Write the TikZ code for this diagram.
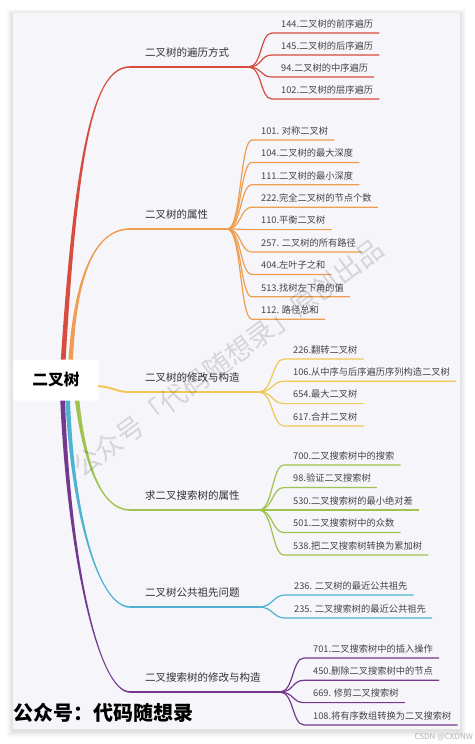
\documentclass[tikz,border=0pt]{standalone}
\usepackage{fontspec}
\setmainfont{Noto Sans CJK SC}
\usepackage{tikz}
\usetikzlibrary{calc}

\definecolor{cardbg}{RGB}{245,245,250}
\definecolor{redb}{RGB}{216,76,64}
\definecolor{orab}{RGB}{238,158,78}
\definecolor{yelb}{RGB}{240,200,88}
\definecolor{greb}{RGB}{160,194,78}
\definecolor{blub}{RGB}{78,178,208}
\definecolor{purb}{RGB}{116,56,142}
\definecolor{txtmain}{RGB}{50,50,50}
\definecolor{txtleaf}{RGB}{68,68,72}

\newcommand{\drawtrunk}[6]{%
    \fill[#1] ($(#2)+(-2.5,0)$) .. controls ($(#3)+(-1.5,0)$) and ($(#4)+(0,-0.8*#6)$) .. ($(#5.south west)+(0,-0.8*#6)$)
        -- ($(#5.south west)+(0,0.8*#6)$) .. controls ($(#4)+(0,0.8*#6)$) and ($(#3)+(1.5,0)$) .. ($(#2)+(2.5,0)$) -- cycle;}

\begin{document}
\begin{tikzpicture}
[
    x = 1pt, y = -1pt,
    branch/.style = {anchor = south west, inner sep = 0pt, text depth = 10pt, text = txtmain,
        font = \fontsize{10.5}{12}\selectfont,
        execute at begin node = \hspace*{15pt}, execute at end node = \hspace*{19pt}},
    leaf/.style = {anchor = south west, inner sep = 0pt, text depth = 5.5pt, text = txtleaf,
        font = \fontsize{9.25}{11}\selectfont,
        execute at begin node = \hspace*{9pt}, execute at end node = \hspace*{6pt}},
    limb/.style = {line width = 1.6pt},
    twig/.style = {line width = 1.2pt},
    rootbox/.style = {fill = white, rounded corners = 2pt, minimum width = 86pt, minimum height = 41pt,
        inner sep = 0pt, font = \fontsize{15.7}{18}\selectfont\bfseries},
]
    \useasboundingbox (0,0) rectangle (474,744);
    \foreach \s in {1,...,6}
        \fill[black, opacity = 0.018] ({13-\s},{13-\s+2}) rectangle ({460+\s},{729+\s+2});
    \fill[cardbg] (13,13) rectangle (460,729);

    \coordinate (rc) at (56,380);
    \coordinate (t1) at (62,380);
    \coordinate (t2) at (70,380);
    \coordinate (t4) at (75,380);
    \coordinate (t5) at (67,380);
    \coordinate (t6) at (62,380);

    \node[branch] (m1) at (130,67) {二叉树的遍历方式};
    \node[branch] (m2) at (130,229) {二叉树的属性};
    \node[branch] (m3) at (130,392) {二叉树的修改与构造};
    \node[branch] (m4) at (130,510) {求二叉搜索树的属性};
    \node[branch] (m5) at (130,607) {二叉树公共祖先问题};
    \node[branch] (m6) at (130,692) {二叉搜索树的修改与构造};

    \drawtrunk{redb}{t1}{76,140}{95,67}{m1}{1}
    \drawtrunk{orab}{t2}{72,290}{90,229}{m2}{1}
    \drawtrunk{purb}{t6}{66,540}{96,692}{m6}{-1}
    \drawtrunk{blub}{t5}{70,510}{98,607}{m5}{-1}
    \drawtrunk{greb}{t4}{82,460}{100,510}{m4}{-1}

    \node[rootbox] (root) at (rc) {二叉树};
    \draw[yelb, line width = 2pt] ($(root.east)+(-1,6)$) .. controls +(18,2) and +(-14,0) .. (m3.south west);

    \draw[limb, redb] (m1.south west) -- (m1.south east);
    \draw[limb, orab] (m2.south west) -- (m2.south east);
    \draw[limb, yelb] (m3.south west) -- (m3.south east);
    \draw[limb, greb] (m4.south west) -- (m4.south east);
    \draw[limb, blub] (m5.south west) -- (m5.south east);
    \draw[limb, purb] (m6.south west) -- (m6.south east);

    \foreach \txt [count=\i from 0] in {144.二叉树的前序遍历, 145.二叉树的后序遍历, 94.二叉树的中序遍历, 102.二叉树的层序遍历}
    {
        \node[leaf] (a\i) at (272,{33+22*\i}) {\txt};
        \draw[twig, redb] (m1.south east) .. controls +(14,0) and +(-12,0) .. (a\i.south west) -- (a\i.south east);
    }
    \foreach \txt [count=\i from 0] in {101. 对称二叉树, 104.二叉树的最大深度, 111.二叉树的最小深度, 222.完全二叉树的节点个数, 110.平衡二叉树, 257. 二叉树的所有路径, 404.左叶子之和, 513.找树左下角的值, 112. 路径总和}
    {
        \node[leaf] (b\i) at (252,{140+22.4*\i}) {\txt};
        \draw[twig, orab] (m2.south east) .. controls +(14,0) and +(-12,0) .. (b\i.south west) -- (b\i.south east);
    }
    \foreach \txt [count=\i from 0] in {226.翻转二叉树, 106.从中序与后序遍历序列构造二叉树, 654.最大二叉树, 617.合并二叉树}
    {
        \node[leaf] (c\i) at (284,{359+22.3*\i}) {\txt};
        \draw[twig, yelb] (m3.south east) .. controls +(14,0) and +(-12,0) .. (c\i.south west) -- (c\i.south east);
    }
    \foreach \txt [count=\i from 0] in {700.二叉搜索树中的搜索, 98.验证二叉搜索树, 530.二叉搜索树的最小绝对差, 501.二叉搜索树中的众数, 538.把二叉搜索树转换为累加树}
    {
        \node[leaf] (d\i) at (284,{465+22.5*\i}) {\txt};
        \draw[twig, greb] (m4.south east) .. controls +(14,0) and +(-12,0) .. (d\i.south west) -- (d\i.south east);
    }
    \foreach \txt [count=\i from 0] in {236. 二叉树的最近公共祖先, 235. 二叉搜索树的最近公共祖先}
    {
        \node[leaf] (e\i) at (285,{595+23*\i}) {\txt};
        \draw[twig, blub] (m5.south east) .. controls +(14,0) and +(-12,0) .. (e\i.south west) -- (e\i.south east);
    }
    \foreach \txt [count=\i from 0] in {701.二叉搜索树中的插入操作, 450.删除二叉搜索树中的节点, 669. 修剪二叉搜索树, 108.将有序数组转换为二叉搜索树}
    {
        \node[leaf] (f\i) at (304,{658+22.3*\i}) {\txt};
        \draw[twig, purb] (m6.south east) .. controls +(14,0) and +(-12,0) .. (f\i.south west) -- (f\i.south east);
    }

    \node[rotate = 36.5, opacity = 0.13, font = \fontsize{27}{27}\selectfont] (mark) at (228,358) {公众号「代码随想录」原创出品};
    \node[anchor = west, inner sep = 0pt, font = \fontsize{20}{22}\selectfont\bfseries] (sign) at (13,713) {公众号：代码随想录};
    \node[anchor = east, inner sep = 1pt, text = black!30, font = \fontsize{8}{9}\selectfont] (csdn) at (474,737) {CSDN @CXDNW};
\end{tikzpicture}
\end{document}
